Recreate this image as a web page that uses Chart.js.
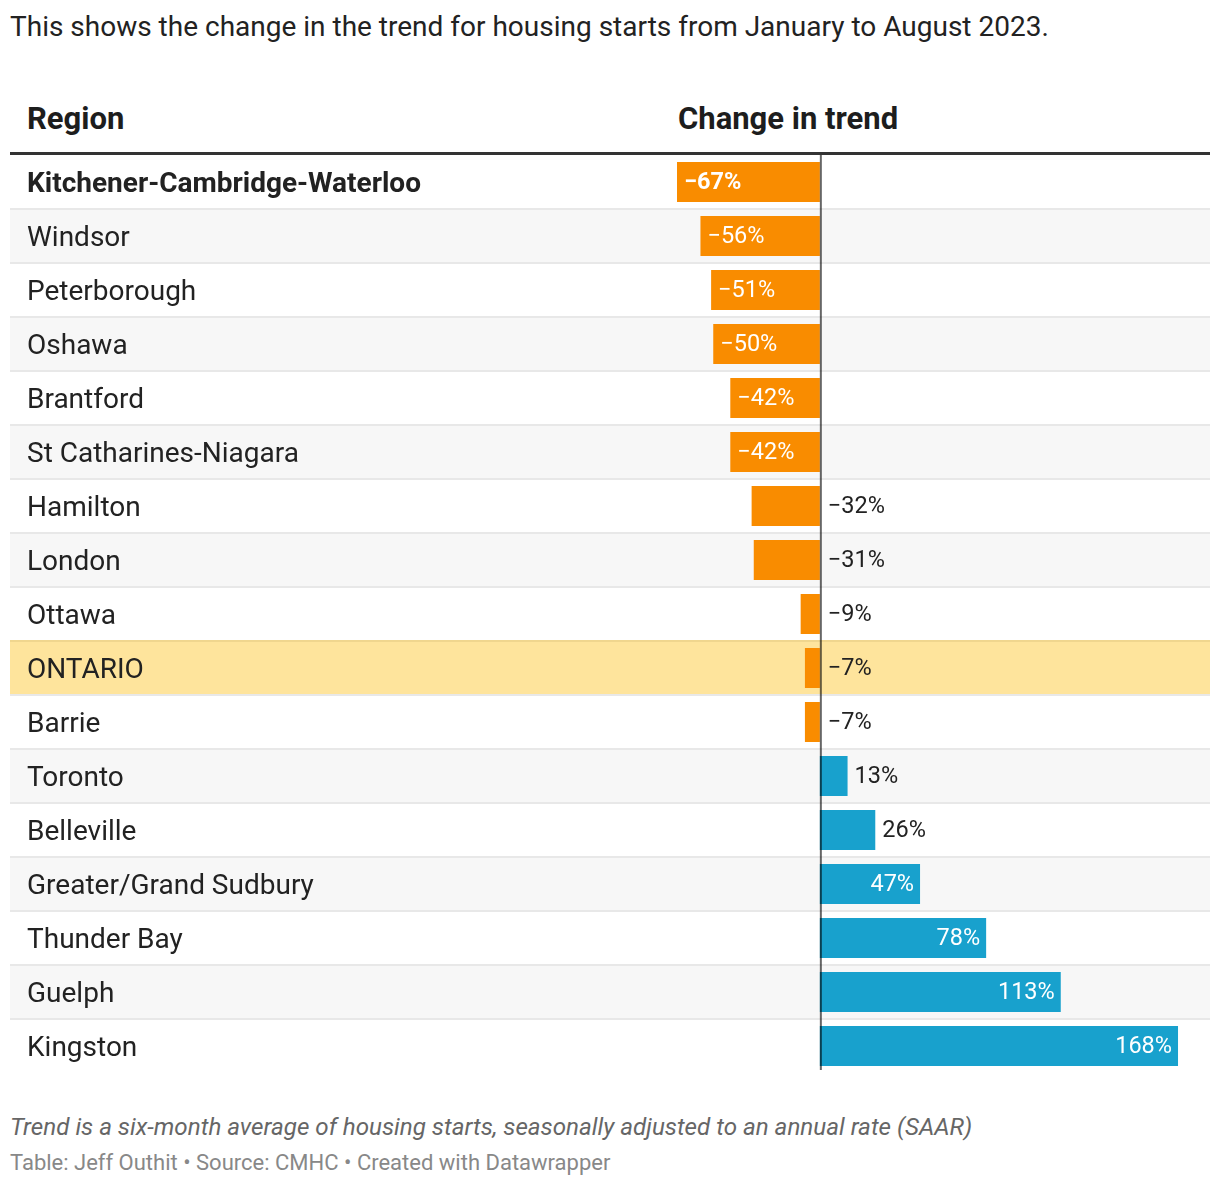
<!DOCTYPE html>
<html><head><meta charset="utf-8">
<script src="https://cdn.jsdelivr.net/npm/chart.js@4.4.0/dist/chart.umd.min.js"></script>
<style>
body{margin:0;background:#fff;font-family:Roboto,sans-serif;color:#222;width:1220px;height:1186px;position:relative;overflow:hidden}
.t{position:absolute;white-space:nowrap;line-height:1.2}
</style></head><body>
<div class="t" style="left:10px;top:10px;font-size:28px;color:#222">This shows the change in the trend for housing starts from January to August 2023.</div>
<div class="t" style="left:27px;top:100px;font-size:31px;font-weight:700;color:#1d1d1d">Region</div>
<div class="t" style="left:678px;top:100px;font-size:31px;font-weight:700;color:#1d1d1d">Change in trend</div>
<div style="position:absolute;left:10px;top:152px;width:1200px;height:3px;background:#333"></div>
<div style="position:absolute;left:10px;top:155px;width:1200px;height:918px"><canvas id="c"></canvas></div>
<div class="t" style="left:10px;top:1113px;font-size:24.2px;font-style:italic;color:#666">Trend is a six-month average of housing starts, seasonally adjusted to an annual rate (SAAR)</div>
<div class="t" style="left:10px;top:1150px;font-size:22px;color:#888">Table: Jeff Outhit • Source: CMHC • Created with Datawrapper</div>
<script>
const regions = ["Kitchener-Cambridge-Waterloo","Windsor","Peterborough","Oshawa","Brantford","St Catharines-Niagara","Hamilton","London","Ottawa","ONTARIO","Barrie","Toronto","Belleville","Greater/Grand Sudbury","Thunder Bay","Guelph","Kingston"];
const changes = [-67,-56,-51,-50,-42,-42,-32,-31,-9,-7,-7,13,26,47,78,113,168];
const valueLabels = changes.map(v => (v < 0 ? '\u2212' : '') + Math.abs(v) + '%');
const highlightIndex = 9;
const boldIndex = 0;

const rowPlugin = {
  id: 'rows',
  beforeDraw(chart) {
    const {ctx, chartArea, scales: {y}} = chart;
    const W = chart.width;
    const h = (chartArea.bottom - chartArea.top) / regions.length;
    ctx.save();
    for (let i = 0; i < regions.length; i++) {
      const y0 = y.getPixelForValue(i) - h / 2;
      ctx.fillStyle = i === highlightIndex ? '#fee49c' : (i % 2 === 1 ? '#f7f7f7' : '#ffffff');
      ctx.fillRect(0, y0, W, h);
    }
    for (let i = 1; i < regions.length; i++) {
      const y0 = y.getPixelForValue(i) - h / 2;
      ctx.fillStyle = i === highlightIndex ? '#f0d68e' : '#e8e8e8';
      ctx.fillRect(0, y0 - 1, W, 2);
    }
    ctx.restore();
  }
};

const labelPlugin = {
  id: 'vlabels',
  afterDatasetsDraw(chart) {
    const {ctx, chartArea, scales: {x}} = chart;
    const meta = chart.getDatasetMeta(0);
    const x0 = x.getPixelForValue(0);
    ctx.save();
    ctx.fillStyle = 'rgba(0,0,0,0.6)';
    ctx.fillRect(x0, chartArea.top, 2, chartArea.bottom - chartArea.top - 3);
    ctx.textBaseline = 'middle';
    meta.data.forEach((bar, i) => {
      const v = changes[i];
      const w = Math.abs(bar.x - bar.base);
      const inside = w > 80;
      ctx.font = (i === boldIndex ? 'bold ' : '') + '23.5px Roboto';
      const ty = bar.y + 1.5;
      if (v < 0) {
        if (inside) { ctx.fillStyle = '#ffffff'; ctx.textAlign = 'left'; ctx.fillText(valueLabels[i], bar.x + 7, ty); }
        else { ctx.fillStyle = '#222'; ctx.textAlign = 'left'; ctx.fillText(valueLabels[i], x0 + 8, ty); }
      } else {
        if (inside) { ctx.fillStyle = '#ffffff'; ctx.textAlign = 'right'; ctx.fillText(valueLabels[i], bar.x - 6, ty); }
        else { ctx.fillStyle = '#222'; ctx.textAlign = 'left'; ctx.fillText(valueLabels[i], bar.x + 7, ty); }
      }
    });
    ctx.restore();
  }
};

new Chart(document.getElementById('c'), {
  type: 'bar',
  data: {
    labels: regions,
    datasets: [{
      data: changes,
      backgroundColor: changes.map(v => v < 0 ? '#f98c00' : '#18a1cd'),
      barPercentage: 0.74,
      categoryPercentage: 1,
      borderWidth: 0
    }]
  },
  options: {
    indexAxis: 'y',
    responsive: true,
    maintainAspectRatio: false,
    animation: false,
    layout: {padding: {left: 17, right: 0, top: 0, bottom: 0}},
    plugins: {legend: {display: false}, tooltip: {enabled: false}},
    scales: {
      x: {min: -67, max: 183, display: false},
      y: {
        grid: {display: false},
        border: {display: false},
        ticks: {
          crossAlign: 'far',
          padding: 0,
          color: '#222',
          callback: (val, i) => ['', regions[i]],
          font: (c) => ({family: 'Roboto', size: 28, lineHeight: '6px', weight: c.index === boldIndex ? 'bold' : 'normal'})
        },
        afterFit: (s) => { s.width = 650; s.paddingTop = 0; s.paddingBottom = 0; }
      }
    }
  },
  plugins: [rowPlugin, labelPlugin]
});
</script>
</body></html>
